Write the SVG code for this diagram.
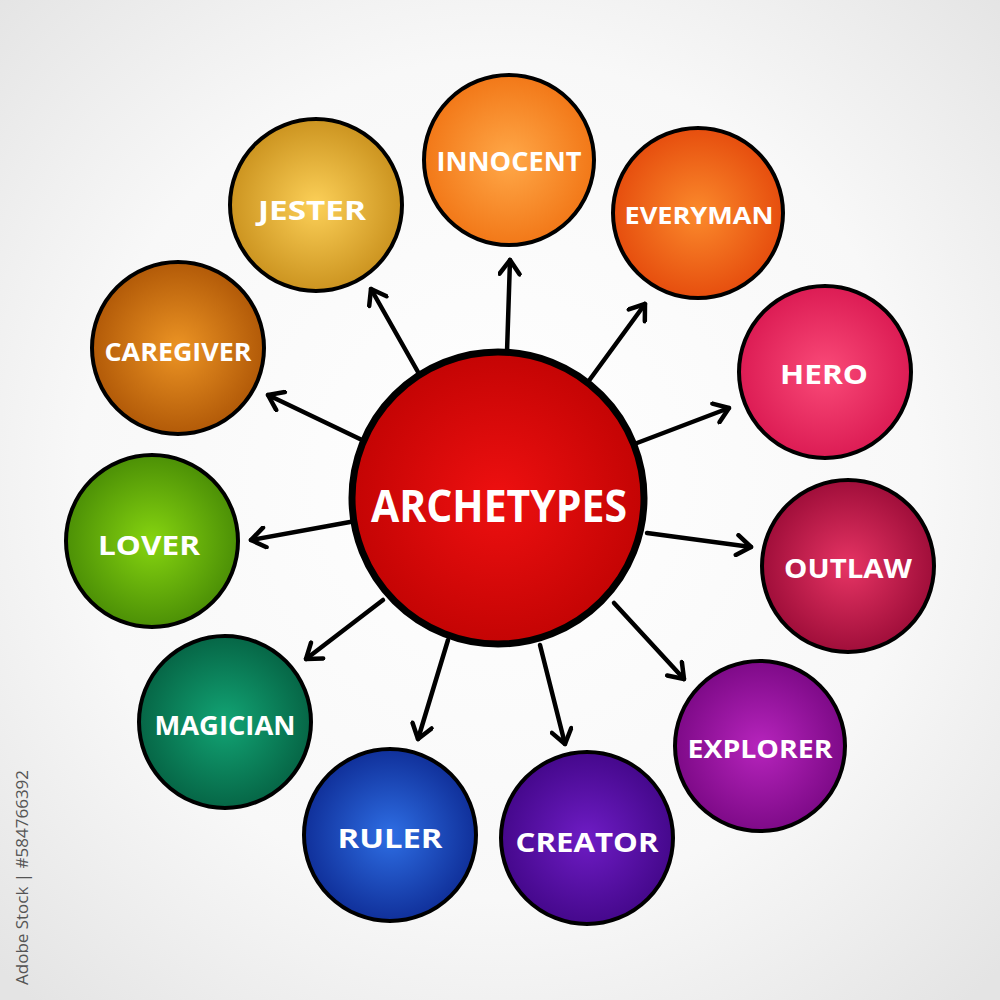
<svg xmlns="http://www.w3.org/2000/svg" width="1000" height="1000" viewBox="0 0 1000 1000">
<defs>
<radialGradient id="bg" cx="50%" cy="48%" r="70%"><stop offset="0" stop-color="#ffffff"/><stop offset="0.6" stop-color="#f8f8f8"/><stop offset="1" stop-color="#e4e4e4"/></radialGradient>
<radialGradient id="gCenter"><stop offset="0" stop-color="#ee1010"/><stop offset="1" stop-color="#c40404"/></radialGradient>
<radialGradient id="gInnocent"><stop offset="0" stop-color="#ffa848"/><stop offset="1" stop-color="#f27818"/></radialGradient>
<radialGradient id="gEveryman"><stop offset="0" stop-color="#fb8a2c"/><stop offset="1" stop-color="#e64e0e"/></radialGradient>
<radialGradient id="gHero"><stop offset="0" stop-color="#fa4a78"/><stop offset="1" stop-color="#dc1c54"/></radialGradient>
<radialGradient id="gOutlaw"><stop offset="0" stop-color="#e63464"/><stop offset="1" stop-color="#a00e3a"/></radialGradient>
<radialGradient id="gExplorer"><stop offset="0" stop-color="#b624bc"/><stop offset="1" stop-color="#7e0a88"/></radialGradient>
<radialGradient id="gCreator"><stop offset="0" stop-color="#6e1cc4"/><stop offset="1" stop-color="#45088c"/></radialGradient>
<radialGradient id="gRuler"><stop offset="0" stop-color="#2e6ee4"/><stop offset="1" stop-color="#10309a"/></radialGradient>
<radialGradient id="gMagician"><stop offset="0" stop-color="#12a474"/><stop offset="1" stop-color="#066646"/></radialGradient>
<radialGradient id="gLover"><stop offset="0" stop-color="#86d410"/><stop offset="1" stop-color="#4c9006"/></radialGradient>
<radialGradient id="gCaregiver"><stop offset="0" stop-color="#ec9424"/><stop offset="1" stop-color="#b25a08"/></radialGradient>
<radialGradient id="gJester"><stop offset="0" stop-color="#fcd058"/><stop offset="1" stop-color="#cc9420"/></radialGradient>
<marker id="arr" markerUnits="userSpaceOnUse" viewBox="0 0 24 24" refX="20" refY="12" markerWidth="24" markerHeight="24" orient="auto">
<path d="M6,2 L20,12 L6,22" fill="none" stroke="#000" stroke-width="4.5" stroke-linecap="round" stroke-linejoin="round"/>
</marker>
<style>
.node{stroke:#000;stroke-width:4}
.lbl{font-family:"Open Sans","Liberation Sans",sans-serif;font-weight:700;fill:#fff;text-anchor:middle;font-size:27px}
.conn line{stroke:#000;stroke-width:4.5;stroke-linecap:round;marker-end:url(#arr)}
</style>
</defs>
<rect width="1000" height="1000" fill="url(#bg)"/>
<g class="conn" id="connectors">
<line x1="507" y1="352" x2="510" y2="260"/>
<line x1="588" y1="382" x2="645" y2="304"/>
<line x1="637" y1="443" x2="729" y2="408"/>
<line x1="647" y1="533" x2="751" y2="547"/>
<line x1="614" y1="603" x2="684" y2="679"/>
<line x1="540" y1="645" x2="565" y2="744"/>
<line x1="448" y1="640" x2="418" y2="739"/>
<line x1="383" y1="600" x2="306" y2="659"/>
<line x1="350" y1="522" x2="251" y2="540"/>
<line x1="362" y1="440" x2="268" y2="395"/>
<line x1="418" y1="372" x2="371" y2="289"/>
</g>
<g id="center"><circle cx="498" cy="498" r="146" fill="url(#gCenter)" stroke="#000" stroke-width="7"/><text x="499" y="522" class="lbl" style="font-size:44px" textLength="256" lengthAdjust="spacingAndGlyphs">ARCHETYPES</text></g>
<g id="innocent"><circle class="node" cx="509" cy="160" r="85" fill="url(#gInnocent)"/><text class="lbl" x="509" y="171" textLength="145" lengthAdjust="spacingAndGlyphs">INNOCENT</text></g>
<g id="everyman"><circle class="node" cx="698" cy="213" r="85" fill="url(#gEveryman)"/><text class="lbl" x="699" y="224" style="font-size:24px" textLength="149" lengthAdjust="spacingAndGlyphs">EVERYMAN</text></g>
<g id="hero"><circle class="node" cx="825" cy="372" r="86" fill="url(#gHero)"/><text class="lbl" x="824" y="384" textLength="88" lengthAdjust="spacingAndGlyphs">HERO</text></g>
<g id="outlaw"><circle class="node" cx="848" cy="566" r="86" fill="url(#gOutlaw)"/><text class="lbl" x="848" y="578" textLength="128" lengthAdjust="spacingAndGlyphs">OUTLAW</text></g>
<g id="explorer"><circle class="node" cx="760" cy="746" r="85" fill="url(#gExplorer)"/><text class="lbl" x="760" y="758" style="font-size:25px" textLength="145" lengthAdjust="spacingAndGlyphs">EXPLORER</text></g>
<g id="creator"><circle class="node" cx="587" cy="838" r="86" fill="url(#gCreator)"/><text class="lbl" x="587" y="852" textLength="143" lengthAdjust="spacingAndGlyphs">CREATOR</text></g>
<g id="ruler"><circle class="node" cx="390" cy="835" r="86" fill="url(#gRuler)"/><text class="lbl" x="390" y="848" textLength="105" lengthAdjust="spacingAndGlyphs">RULER</text></g>
<g id="magician"><circle class="node" cx="225" cy="722" r="86" fill="url(#gMagician)"/><text class="lbl" x="225" y="735" textLength="141" lengthAdjust="spacingAndGlyphs">MAGICIAN</text></g>
<g id="lover"><circle class="node" cx="152" cy="541" r="86" fill="url(#gLover)"/><text class="lbl" x="149" y="555" textLength="102" lengthAdjust="spacingAndGlyphs">LOVER</text></g>
<g id="caregiver"><circle class="node" cx="178" cy="348" r="86" fill="url(#gCaregiver)"/><text class="lbl" x="178" y="361" style="font-size:25px" textLength="147" lengthAdjust="spacingAndGlyphs">CAREGIVER</text></g>
<g id="jester"><circle class="node" cx="316" cy="205" r="86" fill="url(#gJester)"/><text class="lbl" x="312" y="220" textLength="108" lengthAdjust="spacingAndGlyphs">JESTER</text></g>
<text transform="translate(28,985) rotate(-90)" style="font-family:'Open Sans','Liberation Sans',sans-serif;font-size:17px;fill:#555">Adobe Stock | #584766392</text>
</svg>
